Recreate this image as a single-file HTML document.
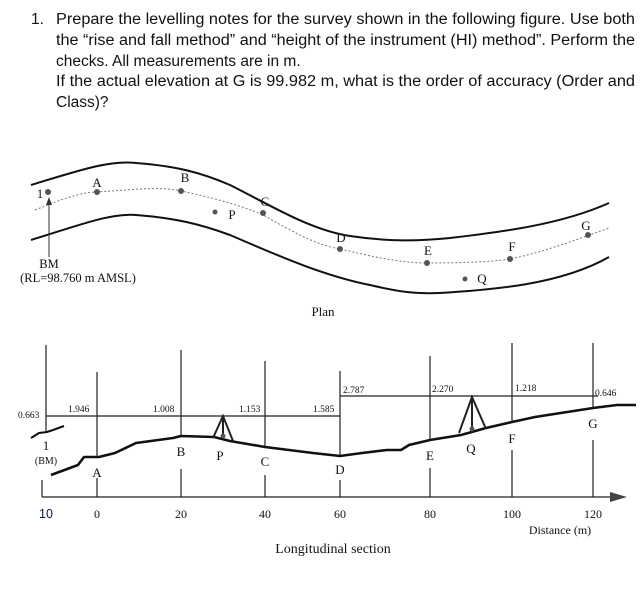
<!DOCTYPE html>
<html><head><meta charset="utf-8"><style>
html,body{margin:0;padding:0;background:#fff;}
svg{display:block;}
.h{font-family:"Liberation Sans",sans-serif;font-size:15.5px;fill:#111;}
.s{font-family:"Liberation Serif",serif;fill:#111;}
</style></head><body>
<svg width="642" height="590" viewBox="0 0 642 590" xmlns="http://www.w3.org/2000/svg">
<text class="h" x="31" y="24">1.</text>
<text class="h" x="56" y="24" textLength="579" lengthAdjust="spacingAndGlyphs">Prepare the levelling notes for the survey shown in the following figure. Use both</text>
<text class="h" x="56" y="45" textLength="579" lengthAdjust="spacingAndGlyphs">the “rise and fall method” and “height of the instrument (HI) method”. Perform the</text>
<text class="h" x="56" y="66">checks. All measurements are in m.</text>
<text class="h" x="56" y="86" textLength="579" lengthAdjust="spacingAndGlyphs">If the actual elevation at G is 99.982 m, what is the order of accuracy (Order and</text>
<text class="h" x="56" y="107">Class)?</text>

<g fill="none" stroke="#111" stroke-width="2">
<path d="M31,185 C80,170 110,160 136,163 C175,166 200,172 230,185 C270,205 310,230 350,236 C390,242 420,241 450,238 C500,232 560,225 609,203"/>
<path d="M31,240 C80,225 110,213 136,215 C175,218 200,224 230,235 C270,252 320,275 370,285 C400,292 415,294 440,293 C490,290 560,285 609,257"/>
</g>
<path d="M35,210 C60,200 80,192 97,192 C130,190 160,186 181,191 C210,197 240,205 263,215 C290,230 315,245 340,249 C370,256 400,263 427,263 C460,263 490,262 510,259 C540,253 570,242 609,228" fill="none" stroke="#777" stroke-width="1" stroke-dasharray="2,2"/>
<g fill="#555">
<circle cx="48" cy="192" r="3"/><circle cx="97" cy="192" r="3"/><circle cx="181" cy="191" r="3"/><circle cx="263" cy="213" r="3"/><circle cx="340" cy="249" r="3"/><circle cx="427" cy="263" r="3"/><circle cx="510" cy="259" r="3"/><circle cx="588" cy="235" r="3"/><circle cx="215" cy="212" r="2.5"/><circle cx="465" cy="279" r="2.5"/>
</g>
<line x1="49" y1="257" x2="49" y2="204" stroke="#333" stroke-width="1"/>
<path d="M46,205 L49,197 L52,205 Z" fill="#333"/>
<g class="s" font-size="13" text-anchor="middle">
<text x="40" y="198">1</text><text x="97" y="187">A</text><text x="185" y="182">B</text><text x="265" y="206">C</text><text x="341" y="242">D</text><text x="428" y="255">E</text><text x="512" y="251">F</text><text x="586" y="230">G</text><text x="232" y="219">P</text><text x="482" y="283">Q</text>
<text x="49" y="268" font-size="12.5">BM</text>
<text x="78" y="282" font-size="12.5">(RL=98.760 m AMSL)</text>
<text x="323" y="316" font-size="13">Plan</text>
</g>

<g stroke="#222" stroke-width="1.2" fill="none">
<line x1="46" y1="345" x2="46" y2="432"/>
<line x1="97" y1="372" x2="97" y2="457"/>
<line x1="181" y1="350" x2="181" y2="436"/>
<line x1="265" y1="361" x2="265" y2="447"/>
<line x1="340" y1="371" x2="340" y2="456"/>
<line x1="430" y1="356" x2="430" y2="440"/>
<line x1="512" y1="343" x2="512" y2="422"/>
<line x1="593" y1="343" x2="593" y2="408"/>
<line x1="46" y1="416" x2="340" y2="416"/>
<line x1="340" y1="396" x2="598" y2="396"/>
<line x1="42" y1="480" x2="42" y2="497"/>
<line x1="97" y1="478" x2="97" y2="497"/>
<line x1="181" y1="469" x2="181" y2="497"/>
<line x1="265" y1="475" x2="265" y2="497"/>
<line x1="340" y1="480" x2="340" y2="497"/>
<line x1="430" y1="468" x2="430" y2="497"/>
<line x1="512" y1="450" x2="512" y2="497"/>
<line x1="593" y1="440" x2="593" y2="497"/>
<line x1="42" y1="497" x2="612" y2="497"/>
</g>
<path d="M610,492 L627,497 L610,502 Z" fill="#444"/>
<path d="M51,475 L78,465 L84,457 L99,457 L115,453 L136,443 L173,438 L181,436 L214,437 L230,441 L265,447 L313,453 L340,456 L362,453 L387,450 L401,450 L409,445 L430,440 L461,435 L486,428 L512,422 L535,417 L593,408 L617,405 L636,405" fill="none" stroke="#111" stroke-width="2.6" stroke-linejoin="round"/>
<path d="M31,438 L39,433 L47,432 L53,430 L64,426" fill="none" stroke="#111" stroke-width="2"/>
<g stroke="#222" stroke-width="2" fill="none">
<path d="M213,438 L223,416 L233,441 M223,416 L223,437"/>
<path d="M459,433 L472,397 L486,429 M472,397 L472,430"/>
</g>
<circle cx="223" cy="436" r="2.5" fill="#555"/><circle cx="472" cy="429" r="2.5" fill="#555"/>
<g class="s" font-size="9.5">
<text x="18" y="418">0.663</text><text x="68" y="412">1.946</text><text x="153" y="412">1.008</text><text x="239" y="412">1.153</text><text x="313" y="412">1.585</text>
<text x="343" y="393">2.787</text><text x="432" y="392">2.270</text><text x="515" y="391">1.218</text><text x="595" y="396">0.646</text>
</g>
<g class="s" font-size="13" text-anchor="middle">
<text x="46" y="450">1</text><text x="46" y="464" font-size="10">(BM)</text>
<text x="97" y="477">A</text><text x="181" y="456">B</text><text x="220" y="460">P</text><text x="265" y="466">C</text><text x="340" y="474">D</text><text x="430" y="460">E</text><text x="471" y="453">Q</text><text x="512" y="443">F</text><text x="593" y="428">G</text>
<text x="46" y="518" font-family="Liberation Sans,sans-serif" font-size="12.5" fill="#0a1440">10</text>
<text x="97" y="518" font-size="12">0</text><text x="181" y="518" font-size="12">20</text><text x="265" y="518" font-size="12">40</text><text x="340" y="518" font-size="12">60</text><text x="430" y="518" font-size="12">80</text><text x="512" y="518" font-size="12">100</text><text x="593" y="518" font-size="12">120</text>
<text x="560" y="534" font-size="12">Distance (m)</text>
<text x="333" y="553" font-size="14">Longitudinal section</text>
</g>
</svg>
</body></html>
